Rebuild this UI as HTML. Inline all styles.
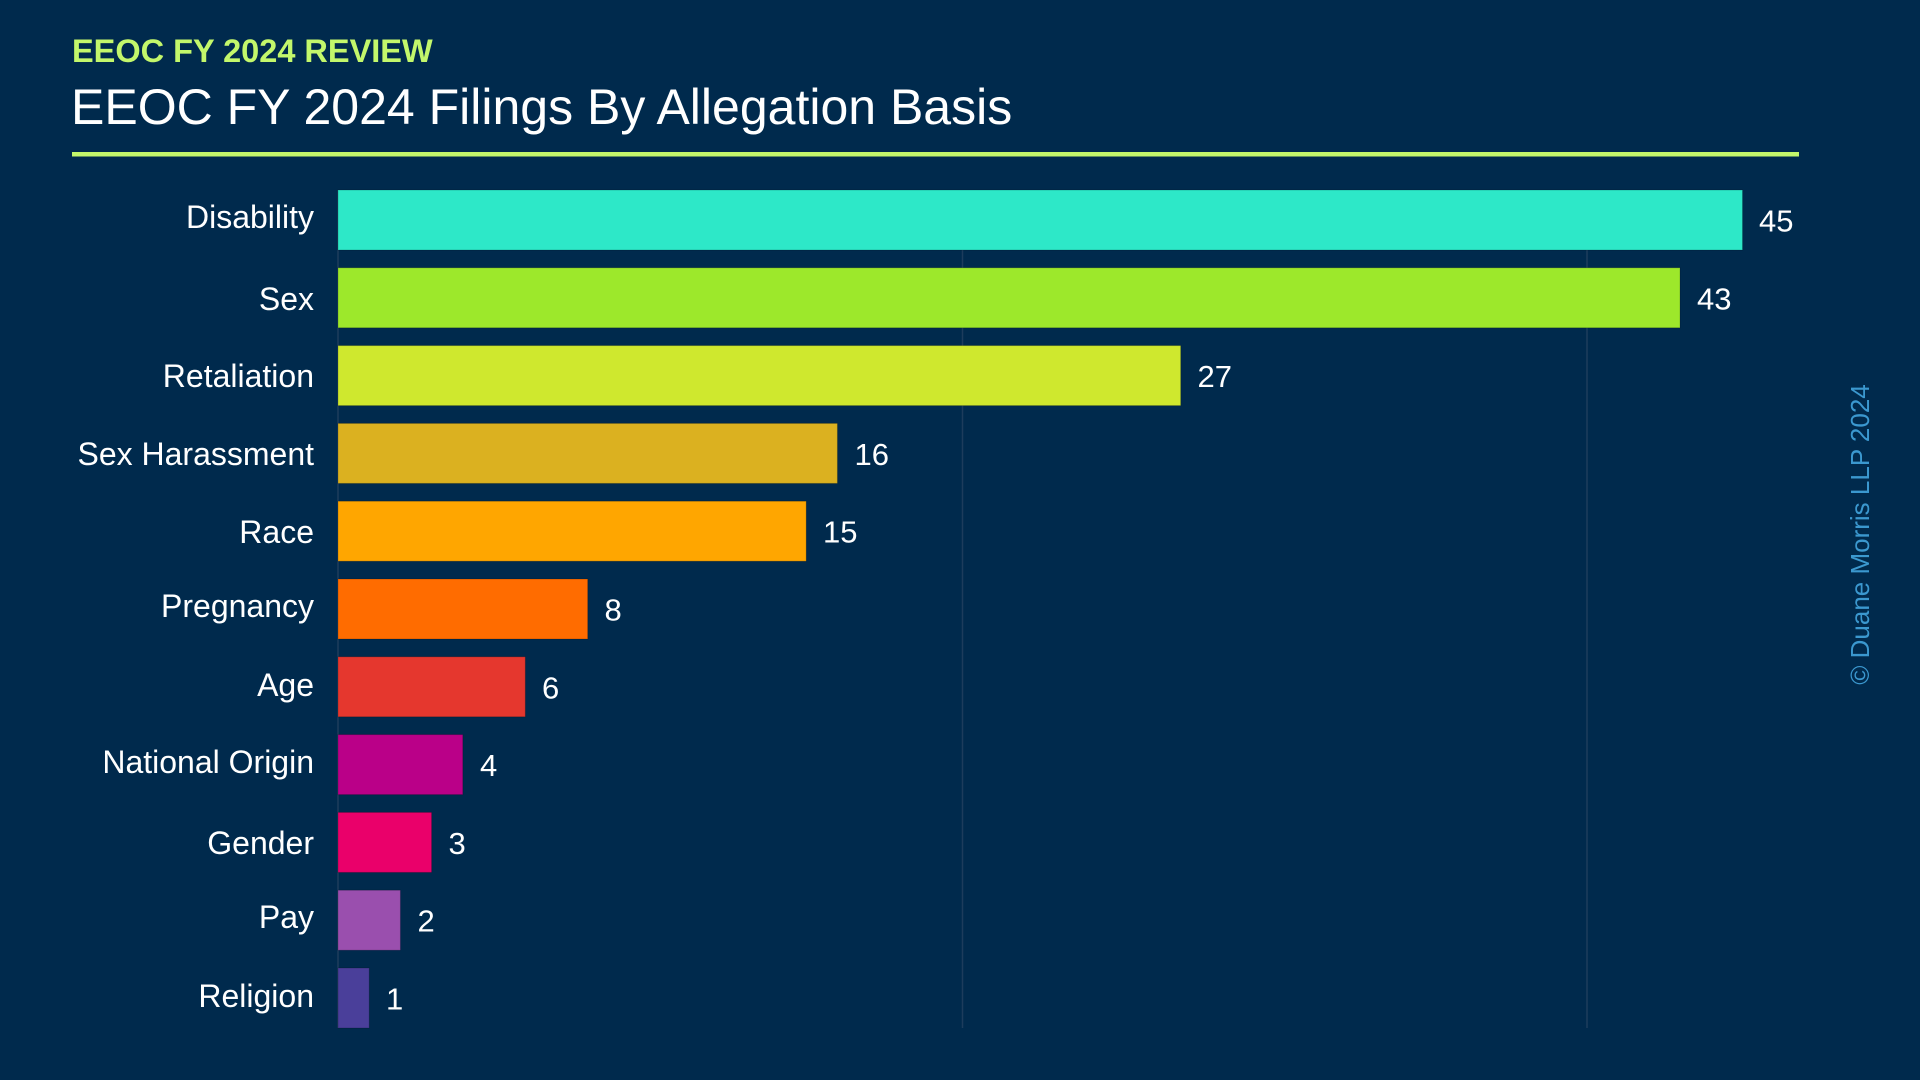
<!DOCTYPE html>
<html>
<head>
<meta charset="utf-8">
<style>
  html, body { margin: 0; padding: 0; }
  body { width: 1920px; height: 1080px; background: #002a4d; overflow: hidden; }
  svg { display: block; }
  text { font-family: "Liberation Sans", Arial, sans-serif; }
</style>
</head>
<body>
<svg width="1920" height="1080" viewBox="0 0 1920 1080" xmlns="http://www.w3.org/2000/svg">
  <rect x="0" y="0" width="1920" height="1080" fill="#002a4d"/>

  <!-- Header -->
  <text x="72" y="62" font-size="32.5" font-weight="bold" fill="#c3f76b">EEOC FY 2024 REVIEW</text>
  <text x="71" y="124" font-size="50" fill="#ffffff">EEOC FY 2024 Filings By Allegation Basis</text>
  <rect x="72" y="152" width="1727" height="4.5" fill="#c3f76b"/>

  <!-- Gridlines -->
  <g stroke="#1d3c5c" stroke-width="1.5">
    <line x1="338" y1="190" x2="338" y2="1028"/>
    <line x1="962.5" y1="190" x2="962.5" y2="1028"/>
    <line x1="1587" y1="190" x2="1587" y2="1028"/>
  </g>

  <!-- Bars -->
  <g stroke="rgba(0,0,0,0.18)" stroke-width="1">
    <rect x="338" y="190" width="1404.5" height="60" fill="#2de8c8"/>
    <rect x="338" y="267.8" width="1342" height="60" fill="#9de82b"/>
    <rect x="338" y="345.6" width="842.7" height="60" fill="#cfe82e"/>
    <rect x="338" y="423.4" width="499.4" height="60" fill="#dbb120"/>
    <rect x="338" y="501.2" width="468.2" height="60" fill="#ffa600"/>
    <rect x="338" y="579" width="249.7" height="60" fill="#ff6c00"/>
    <rect x="338" y="656.8" width="187.3" height="60" fill="#e5372e"/>
    <rect x="338" y="734.6" width="124.8" height="60" fill="#ba0088"/>
    <rect x="338" y="812.4" width="93.6" height="60" fill="#ea006a"/>
    <rect x="338" y="890.2" width="62.4" height="60" fill="#9a4fae"/>
    <rect x="338" y="968" width="31.2" height="60" fill="#4a3f9a"/>
  </g>

  <!-- Category labels -->
  <g font-size="32" fill="#ffffff" text-anchor="end">
    <text x="314" y="228">Disability</text>
    <text x="314" y="310">Sex</text>
    <text x="314" y="387">Retaliation</text>
    <text x="314" y="465">Sex Harassment</text>
    <text x="314" y="543">Race</text>
    <text x="314" y="617">Pregnancy</text>
    <text x="314" y="696">Age</text>
    <text x="314" y="773">National Origin</text>
    <text x="314" y="854">Gender</text>
    <text x="314" y="928">Pay</text>
    <text x="314" y="1007">Religion</text>
  </g>

  <!-- Value labels -->
  <g font-size="31" fill="#ffffff">
    <text x="1759" y="231.5">45</text>
    <text x="1697" y="309.3">43</text>
    <text x="1197.5" y="387.1">27</text>
    <text x="854.5" y="464.9">16</text>
    <text x="823" y="542.7">15</text>
    <text x="604.5" y="620.5">8</text>
    <text x="542" y="698.3">6</text>
    <text x="480" y="776.1">4</text>
    <text x="448.5" y="853.9">3</text>
    <text x="417.5" y="931.7">2</text>
    <text x="386" y="1009.5">1</text>
  </g>

  <!-- Watermark -->
  <text x="0" y="0" font-size="26" fill="#3b98cf" text-anchor="middle"
        transform="translate(1869,534.5) rotate(-90)">© Duane Morris LLP 2024</text>
</svg>
</body>
</html>
